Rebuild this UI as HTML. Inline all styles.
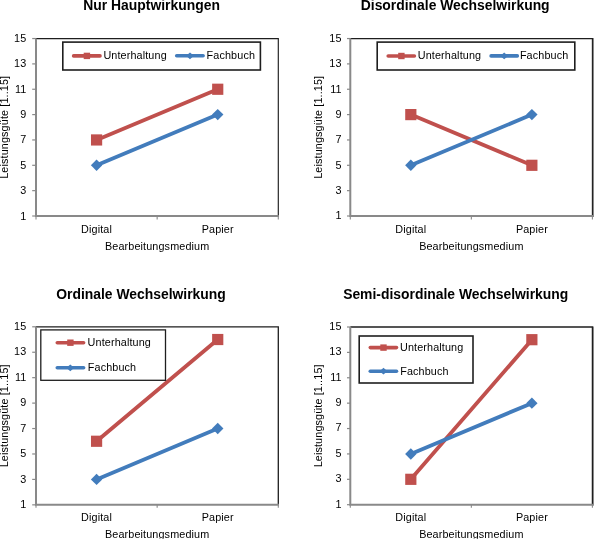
<!DOCTYPE html>
<html><head><meta charset="utf-8"><title>Wechselwirkungen</title>
<style>html,body{margin:0;padding:0;background:#fff;}svg{display:block;}</style></head>
<body><svg width="594" height="539" viewBox="0 0 594 539" font-family="'Liberation Sans', Arial, sans-serif" fill="#000" letter-spacing="0.13">
<rect width="594" height="539" fill="#fff"/>
<g><text x="151.6" y="9.8" text-anchor="middle" font-weight="bold" font-size="13.9" letter-spacing="0">Nur Hauptwirkungen</text>
<path d="M36 38.55H278.3V216" fill="none" stroke="#1e1e1e" stroke-width="1.15"/>
<line x1="32.2" y1="216" x2="36" y2="216" stroke="#898989" stroke-width="1.2"/>
<text x="26.4" y="219.5" text-anchor="end" font-size="10.8">1</text>
<line x1="32.2" y1="190.65" x2="36" y2="190.65" stroke="#898989" stroke-width="1.2"/>
<text x="26.4" y="194.15" text-anchor="end" font-size="10.8">3</text>
<line x1="32.2" y1="165.3" x2="36" y2="165.3" stroke="#898989" stroke-width="1.2"/>
<text x="26.4" y="168.8" text-anchor="end" font-size="10.8">5</text>
<line x1="32.2" y1="139.95" x2="36" y2="139.95" stroke="#898989" stroke-width="1.2"/>
<text x="26.4" y="143.45" text-anchor="end" font-size="10.8">7</text>
<line x1="32.2" y1="114.6" x2="36" y2="114.6" stroke="#898989" stroke-width="1.2"/>
<text x="26.4" y="118.1" text-anchor="end" font-size="10.8">9</text>
<line x1="32.2" y1="89.25" x2="36" y2="89.25" stroke="#898989" stroke-width="1.2"/>
<text x="26.4" y="92.75" text-anchor="end" font-size="10.8">11</text>
<line x1="32.2" y1="63.9" x2="36" y2="63.9" stroke="#898989" stroke-width="1.2"/>
<text x="26.4" y="67.4" text-anchor="end" font-size="10.8">13</text>
<line x1="32.2" y1="38.55" x2="36" y2="38.55" stroke="#898989" stroke-width="1.2"/>
<text x="26.4" y="42.05" text-anchor="end" font-size="10.8">15</text>
<line x1="36" y1="216" x2="36" y2="219.4" stroke="#898989" stroke-width="1.1"/>
<line x1="157.15" y1="216" x2="157.15" y2="219.4" stroke="#898989" stroke-width="1.1"/>
<line x1="278.3" y1="216" x2="278.3" y2="219.4" stroke="#898989" stroke-width="1.1"/>
<path d="M36 38.55V216H278.9" fill="none" stroke="#898989" stroke-width="2"/>
<text x="96.58" y="232.8" text-anchor="middle" font-size="10.8">Digital</text>
<text x="217.73" y="232.8" text-anchor="middle" font-size="10.8">Papier</text>
<text x="157.15" y="250.2" text-anchor="middle" font-size="10.8">Bearbeitungsmedium</text>
<text transform="translate(7.8 127.28) rotate(-90)" text-anchor="middle" font-size="10.8">Leistungsgüte [1..15]</text>
<polyline points="96.58,139.95 217.73,89.25" fill="none" stroke="#C0504D" stroke-width="3.8" stroke-linecap="round"/>
<polyline points="96.58,165.3 217.73,114.6" fill="none" stroke="#427CBC" stroke-width="3.8" stroke-linecap="round"/>
<rect x="90.98" y="134.35" width="11.2" height="11.2" fill="#C0504D"/>
<rect x="212.13" y="83.65" width="11.2" height="11.2" fill="#C0504D"/>
<path d="M96.58 159.6L102.28 165.3L96.58 171L90.88 165.3Z" fill="#427CBC"/>
<path d="M217.73 108.9L223.43 114.6L217.73 120.3L212.03 114.6Z" fill="#427CBC"/>
<rect x="62.8" y="42.1" width="197.6" height="27.9" fill="#fff" stroke="#1e1e1e" stroke-width="1.6"/>
<line x1="73.6" y1="55.9" x2="100" y2="55.9" stroke="#C0504D" stroke-width="3.6" stroke-linecap="round"/>
<rect x="83.7" y="52.7" width="6.4" height="6.4" fill="#C0504D"/>
<text x="103.4" y="58.7" font-size="10.8">Unterhaltung</text>
<line x1="176.7" y1="55.8" x2="203.1" y2="55.8" stroke="#427CBC" stroke-width="3.6" stroke-linecap="round"/>
<path d="M190 52.4L193.9 55.8L190 59.2L186.1 55.8Z" fill="#427CBC"/>
<text x="206.6" y="58.7" font-size="10.8">Fachbuch</text></g>
<g><text x="455.2" y="9.8" text-anchor="middle" font-weight="bold" font-size="13.9" letter-spacing="0">Disordinale Wechselwirkung</text>
<path d="M350.3 38.55H592.4V216" fill="none" stroke="#1e1e1e" stroke-width="1.15"/>
<line x1="593.5" y1="38.05" x2="593.5" y2="217" stroke="#8a8a8a" stroke-width="1"/>
<line x1="347" y1="216" x2="350.3" y2="216" stroke="#898989" stroke-width="1.2"/>
<text x="341.6" y="219.35" text-anchor="end" font-size="10.8">1</text>
<line x1="347" y1="190.65" x2="350.3" y2="190.65" stroke="#898989" stroke-width="1.2"/>
<text x="341.6" y="194" text-anchor="end" font-size="10.8">3</text>
<line x1="347" y1="165.3" x2="350.3" y2="165.3" stroke="#898989" stroke-width="1.2"/>
<text x="341.6" y="168.65" text-anchor="end" font-size="10.8">5</text>
<line x1="347" y1="139.95" x2="350.3" y2="139.95" stroke="#898989" stroke-width="1.2"/>
<text x="341.6" y="143.3" text-anchor="end" font-size="10.8">7</text>
<line x1="347" y1="114.6" x2="350.3" y2="114.6" stroke="#898989" stroke-width="1.2"/>
<text x="341.6" y="117.95" text-anchor="end" font-size="10.8">9</text>
<line x1="347" y1="89.25" x2="350.3" y2="89.25" stroke="#898989" stroke-width="1.2"/>
<text x="341.6" y="92.6" text-anchor="end" font-size="10.8">11</text>
<line x1="347" y1="63.9" x2="350.3" y2="63.9" stroke="#898989" stroke-width="1.2"/>
<text x="341.6" y="67.25" text-anchor="end" font-size="10.8">13</text>
<line x1="347" y1="38.55" x2="350.3" y2="38.55" stroke="#898989" stroke-width="1.2"/>
<text x="341.6" y="41.9" text-anchor="end" font-size="10.8">15</text>
<line x1="350.3" y1="216" x2="350.3" y2="219.4" stroke="#898989" stroke-width="1.1"/>
<line x1="471.35" y1="216" x2="471.35" y2="219.4" stroke="#898989" stroke-width="1.1"/>
<line x1="592.4" y1="216" x2="592.4" y2="219.4" stroke="#898989" stroke-width="1.1"/>
<path d="M350.3 38.55V216H593" fill="none" stroke="#898989" stroke-width="2"/>
<text x="410.82" y="232.8" text-anchor="middle" font-size="10.8">Digital</text>
<text x="531.88" y="232.8" text-anchor="middle" font-size="10.8">Papier</text>
<text x="471.35" y="250.2" text-anchor="middle" font-size="10.8">Bearbeitungsmedium</text>
<text transform="translate(322.1 127.28) rotate(-90)" text-anchor="middle" font-size="10.8">Leistungsgüte [1..15]</text>
<polyline points="410.82,114.6 531.88,165.3" fill="none" stroke="#C0504D" stroke-width="3.8" stroke-linecap="round"/>
<polyline points="410.82,165.3 531.88,114.6" fill="none" stroke="#427CBC" stroke-width="3.8" stroke-linecap="round"/>
<rect x="405.22" y="109" width="11.2" height="11.2" fill="#C0504D"/>
<rect x="526.27" y="159.7" width="11.2" height="11.2" fill="#C0504D"/>
<path d="M410.82 159.6L416.52 165.3L410.82 171L405.12 165.3Z" fill="#427CBC"/>
<path d="M531.88 108.9L537.58 114.6L531.88 120.3L526.17 114.6Z" fill="#427CBC"/>
<rect x="377.2" y="42.1" width="197.6" height="27.9" fill="#fff" stroke="#1e1e1e" stroke-width="1.6"/>
<line x1="388.2" y1="56" x2="414.4" y2="56" stroke="#C0504D" stroke-width="3.6" stroke-linecap="round"/>
<rect x="398.2" y="52.8" width="6.4" height="6.4" fill="#C0504D"/>
<text x="417.8" y="58.7" font-size="10.8">Unterhaltung</text>
<line x1="491.1" y1="55.9" x2="517.3" y2="55.9" stroke="#427CBC" stroke-width="3.6" stroke-linecap="round"/>
<path d="M504.2 52.5L508.1 55.9L504.2 59.3L500.3 55.9Z" fill="#427CBC"/>
<text x="519.9" y="58.7" font-size="10.8">Fachbuch</text></g>
<g><text x="141" y="298.9" text-anchor="middle" font-weight="bold" font-size="13.9" letter-spacing="0">Ordinale Wechselwirkung</text>
<path d="M36 326.8H278.3V504.85" fill="none" stroke="#1e1e1e" stroke-width="1.3"/>
<line x1="32.2" y1="504.85" x2="36" y2="504.85" stroke="#898989" stroke-width="1.2"/>
<text x="26.4" y="508.05" text-anchor="end" font-size="10.8">1</text>
<line x1="32.2" y1="479.41" x2="36" y2="479.41" stroke="#898989" stroke-width="1.2"/>
<text x="26.4" y="482.61" text-anchor="end" font-size="10.8">3</text>
<line x1="32.2" y1="453.98" x2="36" y2="453.98" stroke="#898989" stroke-width="1.2"/>
<text x="26.4" y="457.18" text-anchor="end" font-size="10.8">5</text>
<line x1="32.2" y1="428.54" x2="36" y2="428.54" stroke="#898989" stroke-width="1.2"/>
<text x="26.4" y="431.74" text-anchor="end" font-size="10.8">7</text>
<line x1="32.2" y1="403.11" x2="36" y2="403.11" stroke="#898989" stroke-width="1.2"/>
<text x="26.4" y="406.31" text-anchor="end" font-size="10.8">9</text>
<line x1="32.2" y1="377.67" x2="36" y2="377.67" stroke="#898989" stroke-width="1.2"/>
<text x="26.4" y="380.87" text-anchor="end" font-size="10.8">11</text>
<line x1="32.2" y1="352.24" x2="36" y2="352.24" stroke="#898989" stroke-width="1.2"/>
<text x="26.4" y="355.44" text-anchor="end" font-size="10.8">13</text>
<line x1="32.2" y1="326.8" x2="36" y2="326.8" stroke="#898989" stroke-width="1.2"/>
<text x="26.4" y="330" text-anchor="end" font-size="10.8">15</text>
<line x1="36" y1="504.85" x2="36" y2="507.85" stroke="#898989" stroke-width="1.1"/>
<line x1="157.15" y1="504.85" x2="157.15" y2="507.85" stroke="#898989" stroke-width="1.1"/>
<line x1="278.3" y1="504.85" x2="278.3" y2="507.85" stroke="#898989" stroke-width="1.1"/>
<path d="M36 326.8V504.85H278.9" fill="none" stroke="#898989" stroke-width="2"/>
<text x="96.58" y="520.8" text-anchor="middle" font-size="10.8">Digital</text>
<text x="217.73" y="520.8" text-anchor="middle" font-size="10.8">Papier</text>
<text x="157.15" y="538.4" text-anchor="middle" font-size="10.8">Bearbeitungsmedium</text>
<text transform="translate(7.8 415.83) rotate(-90)" text-anchor="middle" font-size="10.8">Leistungsgüte [1..15]</text>
<polyline points="96.58,441.26 217.73,339.52" fill="none" stroke="#C0504D" stroke-width="3.8" stroke-linecap="round"/>
<polyline points="96.58,479.41 217.73,428.54" fill="none" stroke="#427CBC" stroke-width="3.8" stroke-linecap="round"/>
<rect x="90.98" y="435.66" width="11.2" height="11.2" fill="#C0504D"/>
<rect x="212.13" y="333.92" width="11.2" height="11.2" fill="#C0504D"/>
<path d="M96.58 473.71L102.28 479.41L96.58 485.11L90.88 479.41Z" fill="#427CBC"/>
<path d="M217.73 422.84L223.43 428.54L217.73 434.24L212.03 428.54Z" fill="#427CBC"/>
<rect x="40.8" y="329.9" width="124.7" height="50.4" fill="#fff" stroke="#1e1e1e" stroke-width="1.3"/>
<line x1="57.3" y1="342.7" x2="83.6" y2="342.7" stroke="#C0504D" stroke-width="3.6" stroke-linecap="round"/>
<rect x="67.2" y="339.5" width="6.4" height="6.4" fill="#C0504D"/>
<text x="87.6" y="345.85" font-size="10.8">Unterhaltung</text>
<line x1="57.3" y1="367.8" x2="83.6" y2="367.8" stroke="#427CBC" stroke-width="3.6" stroke-linecap="round"/>
<path d="M70.3 364.4L74.2 367.8L70.3 371.2L66.4 367.8Z" fill="#427CBC"/>
<text x="87.8" y="370.7" font-size="10.8">Fachbuch</text></g>
<g><text x="455.7" y="298.9" text-anchor="middle" font-weight="bold" font-size="13.9" letter-spacing="0">Semi-disordinale Wechselwirkung</text>
<path d="M350.3 327H592.4V504.7" fill="none" stroke="#1e1e1e" stroke-width="1.3"/>
<line x1="593.5" y1="326.5" x2="593.5" y2="505.7" stroke="#8a8a8a" stroke-width="1"/>
<line x1="347" y1="504.7" x2="350.3" y2="504.7" stroke="#898989" stroke-width="1.2"/>
<text x="341.6" y="507.6" text-anchor="end" font-size="10.8">1</text>
<line x1="347" y1="479.31" x2="350.3" y2="479.31" stroke="#898989" stroke-width="1.2"/>
<text x="341.6" y="482.21" text-anchor="end" font-size="10.8">3</text>
<line x1="347" y1="453.93" x2="350.3" y2="453.93" stroke="#898989" stroke-width="1.2"/>
<text x="341.6" y="456.83" text-anchor="end" font-size="10.8">5</text>
<line x1="347" y1="428.54" x2="350.3" y2="428.54" stroke="#898989" stroke-width="1.2"/>
<text x="341.6" y="431.44" text-anchor="end" font-size="10.8">7</text>
<line x1="347" y1="403.16" x2="350.3" y2="403.16" stroke="#898989" stroke-width="1.2"/>
<text x="341.6" y="406.06" text-anchor="end" font-size="10.8">9</text>
<line x1="347" y1="377.77" x2="350.3" y2="377.77" stroke="#898989" stroke-width="1.2"/>
<text x="341.6" y="380.67" text-anchor="end" font-size="10.8">11</text>
<line x1="347" y1="352.39" x2="350.3" y2="352.39" stroke="#898989" stroke-width="1.2"/>
<text x="341.6" y="355.29" text-anchor="end" font-size="10.8">13</text>
<line x1="347" y1="327" x2="350.3" y2="327" stroke="#898989" stroke-width="1.2"/>
<text x="341.6" y="329.9" text-anchor="end" font-size="10.8">15</text>
<line x1="350.3" y1="504.7" x2="350.3" y2="507.7" stroke="#898989" stroke-width="1.1"/>
<line x1="471.35" y1="504.7" x2="471.35" y2="507.7" stroke="#898989" stroke-width="1.1"/>
<line x1="592.4" y1="504.7" x2="592.4" y2="507.7" stroke="#898989" stroke-width="1.1"/>
<path d="M350.3 327V504.7H593" fill="none" stroke="#898989" stroke-width="2"/>
<text x="410.82" y="520.8" text-anchor="middle" font-size="10.8">Digital</text>
<text x="531.88" y="520.8" text-anchor="middle" font-size="10.8">Papier</text>
<text x="471.35" y="538.4" text-anchor="middle" font-size="10.8">Bearbeitungsmedium</text>
<text transform="translate(322.1 415.85) rotate(-90)" text-anchor="middle" font-size="10.8">Leistungsgüte [1..15]</text>
<polyline points="410.82,479.31 531.88,339.69" fill="none" stroke="#C0504D" stroke-width="3.8" stroke-linecap="round"/>
<polyline points="410.82,453.93 531.88,403.16" fill="none" stroke="#427CBC" stroke-width="3.8" stroke-linecap="round"/>
<rect x="405.22" y="473.71" width="11.2" height="11.2" fill="#C0504D"/>
<rect x="526.27" y="334.09" width="11.2" height="11.2" fill="#C0504D"/>
<path d="M410.82 448.23L416.52 453.93L410.82 459.63L405.12 453.93Z" fill="#427CBC"/>
<path d="M531.88 397.46L537.58 403.16L531.88 408.86L526.17 403.16Z" fill="#427CBC"/>
<rect x="359.2" y="336" width="113.8" height="47" fill="#fff" stroke="#1e1e1e" stroke-width="1.6"/>
<line x1="370.3" y1="347.6" x2="396.5" y2="347.6" stroke="#C0504D" stroke-width="3.6" stroke-linecap="round"/>
<rect x="380.3" y="344.4" width="6.4" height="6.4" fill="#C0504D"/>
<text x="400" y="350.7" font-size="10.8">Unterhaltung</text>
<line x1="370.3" y1="371.2" x2="396.5" y2="371.2" stroke="#427CBC" stroke-width="3.6" stroke-linecap="round"/>
<path d="M383.5 367.8L387.4 371.2L383.5 374.6L379.6 371.2Z" fill="#427CBC"/>
<text x="400.2" y="374.7" font-size="10.8">Fachbuch</text></g>
</svg></body></html>
